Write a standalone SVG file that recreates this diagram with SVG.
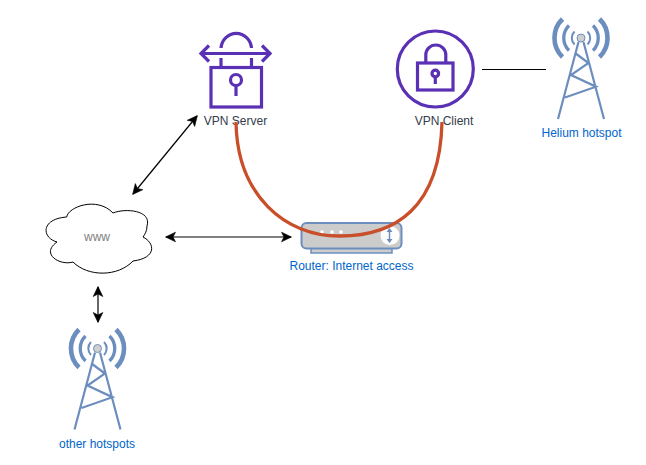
<svg xmlns="http://www.w3.org/2000/svg" xmlns:xlink="http://www.w3.org/1999/xlink" width="646" height="465" viewBox="0 0 646 465">
<style>
text{font-family:"Liberation Sans",Arial,sans-serif;font-size:12px;text-anchor:middle}
.dark{fill:#333c4a}
.blue{fill:#0066cc}
.www{fill:#808080;font-size:12px}
.aws{fill:none;stroke:#5a30b5;stroke-width:3.2}
.tw{fill:none;stroke:#6c8ebf;stroke-width:2.2}
.wave{fill:none;stroke:#6c8ebf;stroke-linecap:butt}
.conn{fill:none;stroke:#000;stroke-width:1.2}
.red{fill:none;stroke:#c94f2b;stroke-width:3.3}
</style>
<defs>
<marker id="ah" markerUnits="userSpaceOnUse" markerWidth="12" markerHeight="12" refX="10.5" refY="6" orient="auto-start-reverse"><path d="M1,1.2 L11,6 L1,10.8 L3.5,6 Z" fill="#000" stroke="#000" stroke-width=".6"/></marker>
<g id="tower">
<path class="tw" d="M-2.500,4 L-23,81 M2.500,4 L23,81 M-6,15 L7.500,25 L-10,37 L15,48.700 L-16,59.500"/>
<path class="wave" stroke-width="2" d="M-6.500,-6.500 A9.200,9.200 0 0 0 -6.500,6.500 M6.500,-6.500 A9.200,9.200 0 0 1 6.500,6.500"/>
<path class="wave" stroke-width="3.300" d="M-12,-12.500 A17.500,17.500 0 0 0 -12,12.500 M12,-12.500 A17.500,17.500 0 0 1 12,12.500"/>
<path class="wave" stroke-width="4.600" d="M-18.500,-19 A26.500,26.500 0 0 0 -18.500,19 M18.500,-19 A26.500,26.500 0 0 1 18.500,19"/>
<circle r="4" fill="#cfcfcf" stroke="#6c8ebf" stroke-width="1"/>
</g>
</defs>
<g id="vpn-server">
<rect class="aws" x="211" y="67.500" width="50.500" height="39.500"/>
<path class="aws" d="M221,67 V58 M251.500,67 V58 M221,48 A15.300,16 0 0 1 251.500,48 M202,53.500 H269 M209,45.500 L201,53.500 L209,61.500 M262,45.500 L270,53.500 L262,61.500"/>
<circle class="aws" cx="236" cy="80" r="5.500"/>
<path class="aws" d="M236,85.500 V96"/>
<text class="dark" x="235.500" y="125">VPN Server</text>
</g>
<g id="vpn-client">
<circle class="aws" cx="435.300" cy="69" r="38"/>
<rect class="aws" x="417.500" y="63" width="35.500" height="27"/>
<path class="aws" d="M425.800,63 V55 A10,10 0 0 1 445.800,55 V63"/>
<circle class="aws" cx="435.300" cy="73.500" r="3.300"/>
<path class="aws" d="M435.300,76.500 V84"/>
<text class="dark" x="444" y="125">VPN Client</text>
</g>
<g id="helium-hotspot">
<use href="#tower" x="581" y="38"/>
<text class="blue" x="581.500" y="137">Helium hotspot</text>
</g>
<g id="www">
<path fill="#fff" stroke="#000" stroke-width="1" d="M66.700,217 C68,207 97,196 113,213 C125,208 152,210 147,226 C147,231 145,234 143,237 C155,243 157,258 133,261 C118,277 88,277 73,262 C60,266 40,254 57,242 C42,238 40,219 66.700,217 Z"/>
<text class="www" x="97" y="241">www</text>
</g>
<g id="router">
<rect x="311" y="246" width="81" height="7" fill="#cccccc" stroke="#6c8ebf" stroke-width="1.500"/>
<rect x="301.500" y="223" width="100" height="25.500" rx="5" fill="#cccccc" stroke="#6c8ebf" stroke-width="2"/>
<circle cx="390" cy="235.500" r="9.500" fill="#fff"/>
<circle cx="322" cy="232" r="1.800" fill="#fff"/>
<circle cx="332" cy="232" r="1.800" fill="#fff"/>
<circle cx="341" cy="232" r="1.800" fill="#fff"/>
<path d="M389.500,229 V242" fill="none" stroke="#6c8ebf" stroke-width="1.500"/>
<path d="M389.500,228 L392.500,232 H386.500 Z M389.500,243 L392.500,239 H386.500 Z" fill="#6c8ebf"/>
<text class="blue" x="351.500" y="270">Router: Internet access</text>
</g>
<g id="other-hotspots">
<use href="#tower" x="97.500" y="348.500"/>
<text class="blue" x="97" y="448">other hotspots</text>
</g>
<g id="connectors">
<path class="conn" d="M482,69.500 H546"/>
<path class="conn" d="M133,194 L197,116" marker-start="url(#ah)" marker-end="url(#ah)"/>
<path class="conn" d="M166,237 H291" marker-start="url(#ah)" marker-end="url(#ah)"/>
<path class="conn" d="M98,287 V322" marker-start="url(#ah)" marker-end="url(#ah)"/>
<path class="red" d="M236,122 C237,195 285,236.500 340,236 C395,236 440,208 442,122"/>
</g>
</svg>
